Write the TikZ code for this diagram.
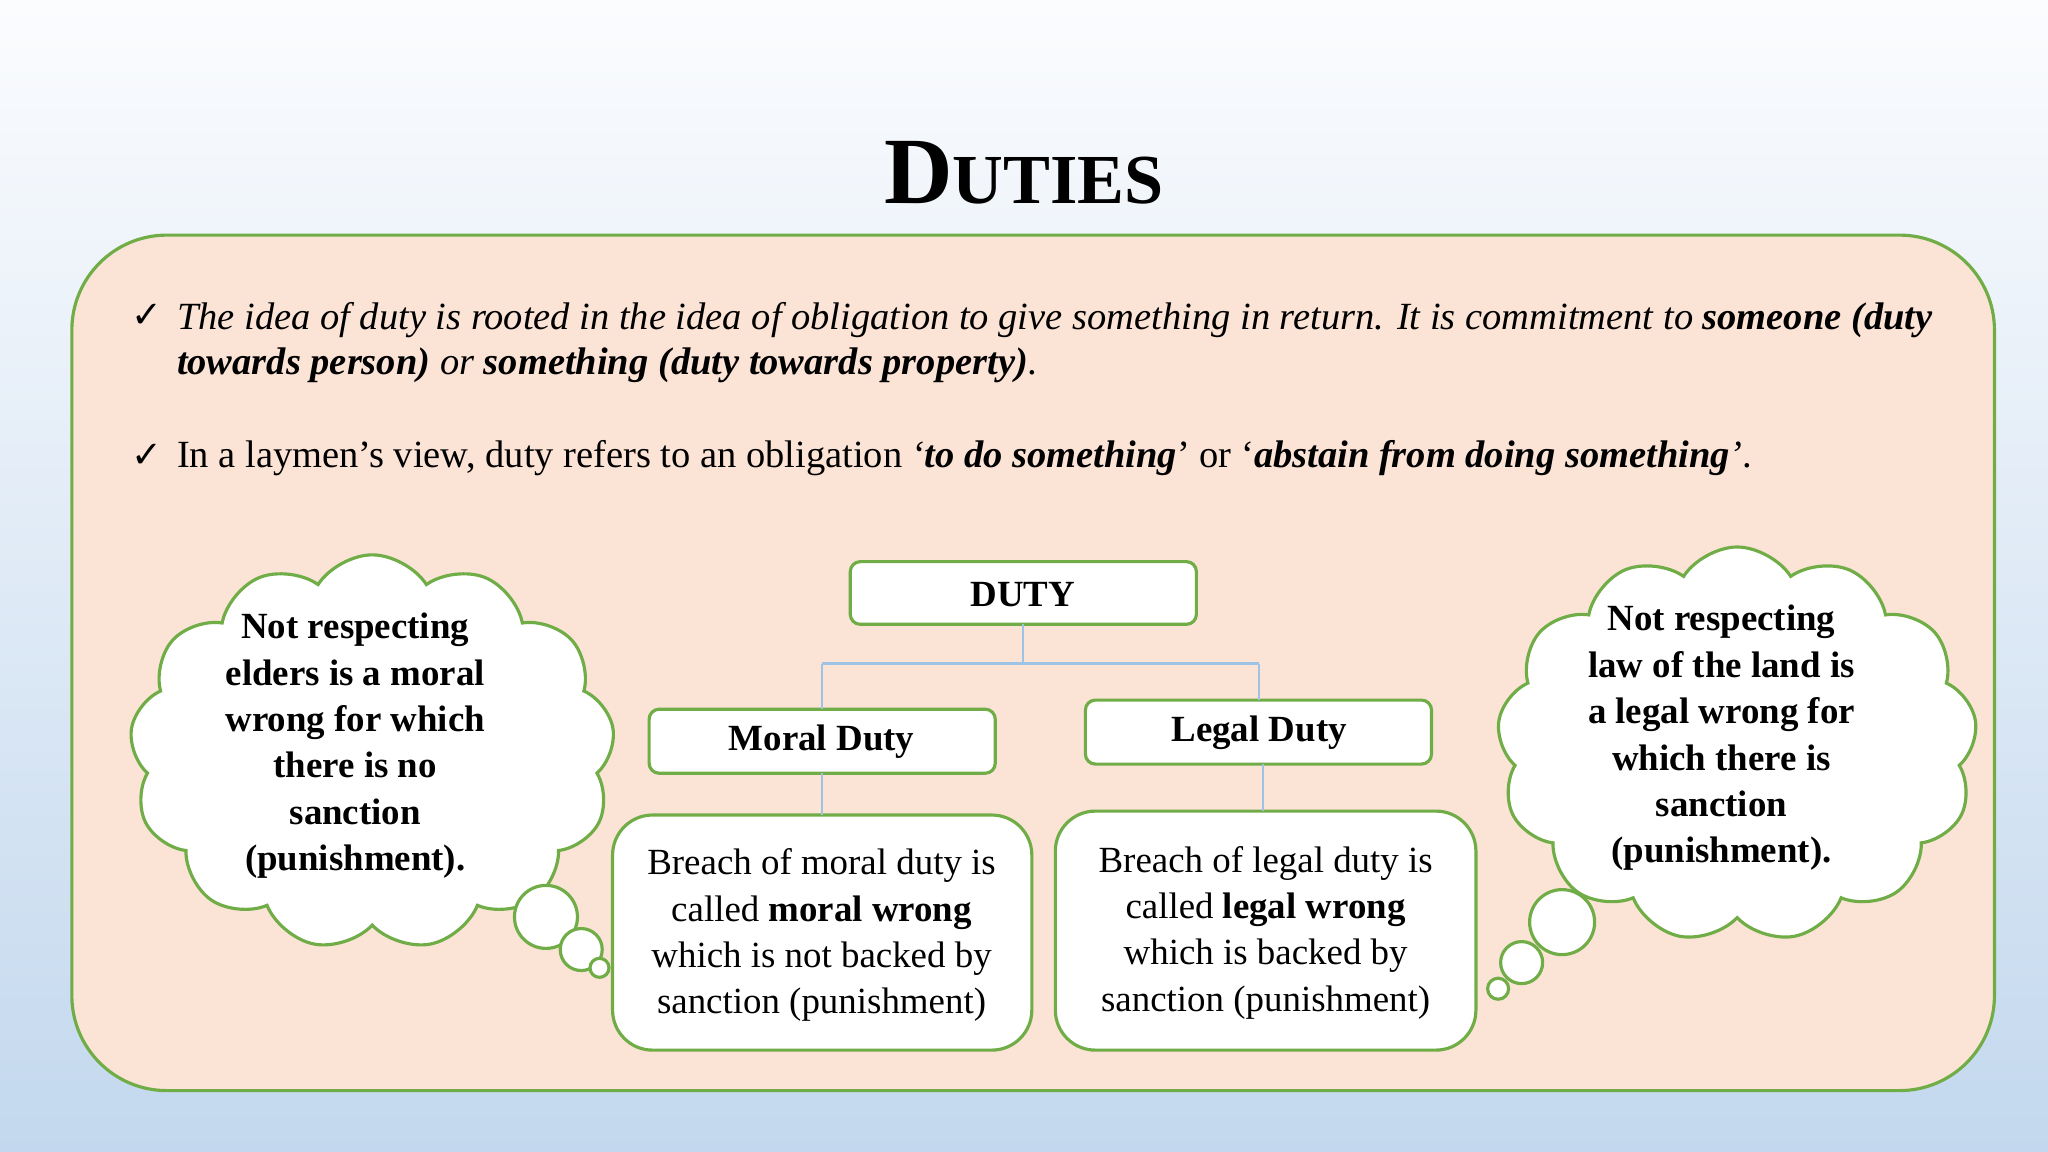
\documentclass[tikz,border=0pt]{standalone}
\usepackage{fontspec}
\setmainfont{Liberation Serif}
\newfontfamily\djsym{DejaVu Sans}
\usetikzlibrary{shapes.symbols}
\definecolor{grn}{HTML}{70AD47}
\definecolor{peach}{HTML}{FBE3D6}
\definecolor{lnk}{HTML}{9DC3E6}
\definecolor{bgtop}{HTML}{FBFCFE}
\definecolor{bgbot}{HTML}{C3D8EE}
\tikzset{
 box/.style={draw=grn, line width=0.9pt, fill=white},
 conn/.style={draw=lnk, line width=0.6pt},
 cloudbox/.style={cloud, cloud puffs=13, cloud puff arc=115, draw=grn, line width=0.9pt, fill=white},
 bub/.style={circle, draw=grn, line width=0.9pt, fill=white, inner sep=0pt},
 txt/.style={font=\fontsize{10.5}{13.2}\selectfont, align=center},
 btxt/.style={font=\fontsize{10.5}{13.2}\selectfont\bfseries, align=center}
}
\begin{document}
\begin{tikzpicture}[x=0.01306cm, y=-0.01306cm]
\shade[top color=bgtop, bottom color=bgbot] (0,0) rectangle (1568,882);
\useasboundingbox (0,0) rectangle (1568,882);
\node (title) at (784,132) {\fontsize{27}{30}\selectfont\bfseries D\fontsize{20}{24}\selectfont UTIES};
\draw[draw=grn, fill=peach, line width=0.9pt, rounded corners=0.95cm] (55,180) rectangle (1527,835);
\node[anchor=west, inner sep=0pt] (c1) at (100,242) {\djsym\fontsize{10.5}{12}\selectfont ✓};
\node[anchor=west, inner sep=0pt] (c2) at (100,349) {\djsym\fontsize{10.5}{12}\selectfont ✓};
\node[anchor=west, inner sep=0pt] (l1) at (135,245) {\fontsize{10.95}{13}\selectfont\itshape The idea of duty is rooted in the idea of obligation to give something in return. It is commitment to \textbf{someone (duty}};
\node[anchor=west, inner sep=0pt] (l2) at (135,280) {\fontsize{10.95}{13}\selectfont\itshape \textbf{towards person)} or \textbf{something (duty towards property)}.};
\node[anchor=west, inner sep=0pt] (l3) at (135,351) {\fontsize{10.95}{13}\selectfont In a laymen’s view, duty refers to an obligation \textit{‘\textbf{to do something}}’ or ‘\textbf{\textit{abstain from doing something}}\textit{’}.};
% boxes
\draw[box, rounded corners=0.1cm] (651,430) rectangle (916,478);
\node[btxt] (duty) at (783,455) {DUTY};
\draw[box, rounded corners=0.1cm] (497,543) rectangle (762,592);
\node[btxt] (moral) at (629,568) {Moral Duty};
\draw[box, rounded corners=0.1cm] (831,536) rectangle (1096,585);
\node[btxt] (legal) at (964,561) {Legal Duty};
\draw[box, rounded corners=0.4cm] (469,624) rectangle (790,804);
\node[txt] (mb) at (629,716) {Breach of moral duty is\\called \textbf{moral wrong}\\which is not backed by\\sanction (punishment)};
\draw[box, rounded corners=0.4cm] (808,621) rectangle (1130,804);
\node[txt] (lb) at (969,714) {Breach of legal duty is\\called \textbf{legal wrong}\\which is backed by\\sanction (punishment)};
\coordinate (d0) at (783,478); \coordinate (d1) at (783,508);
\coordinate (m0) at (629,508); \coordinate (m1) at (629,543);
\coordinate (g0) at (964,508); \coordinate (g1) at (964,536);
\draw[conn] (d0) -- (d1) (m0) -- (g0) (m0) -- (m1) (g0) -- (g1);
\coordinate (m2) at (629,592); \coordinate (m3) at (629,624);
\coordinate (g2) at (967,585); \coordinate (g3) at (967,621);
\draw[conn] (m2) -- (m3) (g2) -- (g3);
% clouds
\node[cloudbox, minimum width=4.85cm, minimum height=3.95cm] (cl) at (285,576) {};
\node[btxt] (clt) at (272,571) {Not respecting\\elders is a moral\\wrong for which\\there is no\\sanction\\(punishment).};
\node[bub, minimum size=0.63cm] (b1) at (418,702) {};
\node[bub, minimum size=0.42cm] (b2) at (445,727) {};
\node[bub, minimum size=0.19cm] (b3) at (459,741) {};
\node[cloudbox, minimum width=4.8cm, minimum height=3.95cm] (cr) at (1330,570) {};
\node[btxt] (crt) at (1318,565) {Not respecting\\law of the land is\\a legal wrong for\\which there is\\sanction\\(punishment).};
\node[bub, minimum size=0.65cm] (r1) at (1196,706) {};
\node[bub, minimum size=0.42cm] (r2) at (1165,737) {};
\node[bub, minimum size=0.21cm] (r3) at (1147,757) {};
\end{tikzpicture}
\end{document}
